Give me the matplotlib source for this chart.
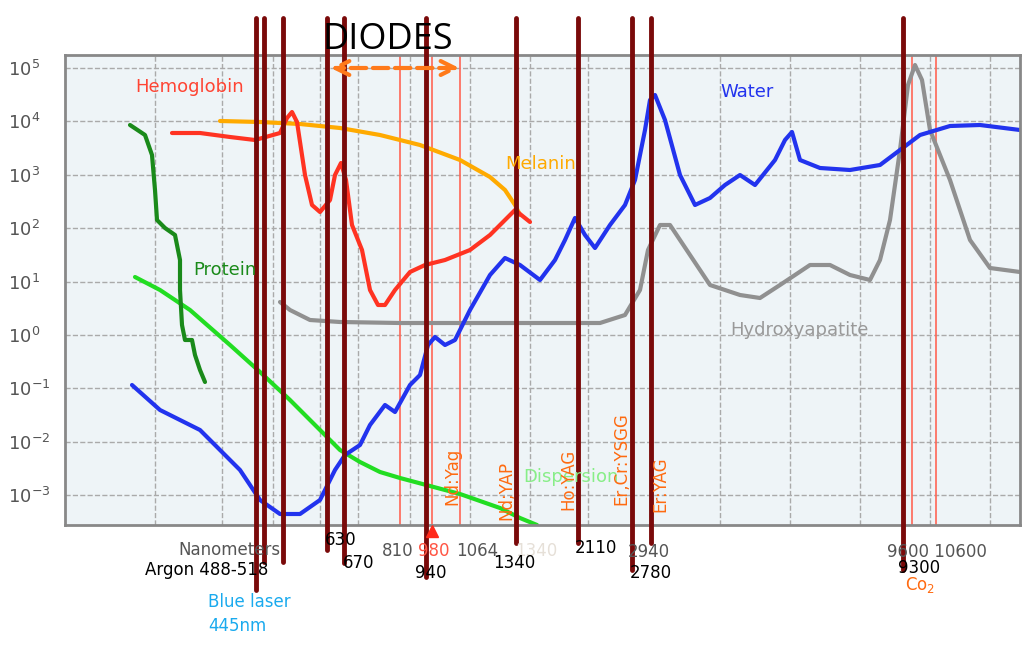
import numpy as np
import matplotlib.pyplot as plt

plt.rcParams['lines.solid_joinstyle'] = 'round'
plt.rcParams['lines.solid_capstyle'] = 'round'

# readings: x = horizontal position, y = vertical position
def lg(ys):
    # vertical position -> absorption (10^5 at 68, 53.4 px per decade)
    return 10 ** (5 - (np.array(ys) - 68) / 53.4)

water_x = [132,160,200,240,260,280,300,320,335,345,360,370,385,395,410,420,428,435,445,455,470,490,505,520,540,555,565,575,585,595,610,625,635,645,650,655,665,680,695,710,725,740,755,775,785,792,800,820,850,880,900,920,950,980,1020]
water_y = [385,410,430,470,500,514,514,500,470,455,445,425,405,412,385,375,345,337,345,340,310,275,258,265,280,260,240,218,235,248,225,205,180,130,100,95,120,175,205,198,185,175,185,160,140,132,160,168,170,165,150,135,126,125,130]
hemo_x = [172,200,230,255,280,287,292,297,305,312,320,330,335,341,346,352,362,370,378,385,395,410,425,445,470,490,505,515,530]
hemo_y = [133,133,137,140,133,118,112,122,175,205,212,200,175,163,180,225,250,290,305,305,290,272,265,260,250,235,220,210,222]
melanin_x = [220,260,300,340,380,420,460,490,505,515,520]
melanin_y = [121,122,124,128,135,145,160,177,190,205,215]
protein_x = [130,145,152,155,157,165,175,180,180,182,185,192,195,200,205]
protein_y = [125,135,155,190,220,228,235,260,290,325,340,340,355,370,382]
disp_x = [135,160,190,230,260,290,320,340,360,380,400,430,460,500,520,537]
disp_y = [277,290,310,345,372,400,430,450,462,472,478,486,494,508,518,525]
hydro_x = [280,290,310,340,400,500,600,625,640,648,660,670,690,710,740,760,780,810,830,850,870,880,890,900,908,915,922,930,950,970,990,1020]
hydro_y = [302,310,320,322,323,323,323,315,290,250,225,225,255,285,295,298,285,265,265,275,280,260,220,150,85,65,80,130,180,240,268,272]

grid_x = [155,222,273,320,358,410,470,530,588,650,720,790,860,930,990]
thin_red = [400,432,460,912,936]
# laser lines: position, bottom end
laser_x = [256,264,283,327,344,426,516,578,632,651,903]
laser_end = [590,562,562,550,563,577,543,543,570,543,570]

W, H = 1024, 651
fig = plt.figure(figsize=(W / 100, H / 100), dpi=100)
ax = fig.add_axes([65 / W, (H - 525) / H, 955 / W, 470 / H])
ax.set_facecolor('#eef4f7')
ax.set_xlim(65, 1020)
ax.set_ylim(10 ** (5 - (525 - 68) / 53.4), 10 ** (5 - (55 - 68) / 53.4))
ax.set_yscale('log')
ax.set_xticks([])
ax.set_yticks([10.0 ** k for k in range(-3, 6)])
ax.set_yticks([], minor=True)
ax.set_yticklabels([r'$10^{%d}$' % k for k in range(-3, 6)], color='#555555', fontsize=13)
ax.tick_params(axis='y', length=0, pad=41)
for t in ax.get_yticklabels():
    t.set_horizontalalignment('left')
ax.grid(axis='y', ls='--', color='#aaaaaa', lw=1)
for gx in grid_x:
    ax.axvline(gx, ls='--', color='#aaaaaa', lw=1, zorder=0)
for s in ax.spines.values():
    s.set_color('#888888')
    s.set_linewidth(2)
for rx in thin_red:
    ax.axvline(rx, color='#ff6655', lw=1.2)

ax.plot(hydro_x, lg(hydro_y), color='#909090', lw=3)
ax.plot(disp_x, lg(disp_y), color='#22dd22', lw=3)
ax.plot(protein_x, lg(protein_y), color='#1a8a1a', lw=3)
ax.plot(melanin_x, lg(melanin_y), color='#ffaa00', lw=3)
ax.plot(hemo_x, lg(hemo_y), color='#ff3322', lw=3)
ax.plot(water_x, lg(water_y), color='#2233ee', lw=3)

# overlay in picture coordinates
ov = fig.add_axes([0, 0, 1, 1])
ov.set_xlim(0, W)
ov.set_ylim(H, 0)
ov.axis('off')
ov.patch.set_alpha(0)

for x, e in zip(laser_x, laser_end):
    ov.plot([x, x], [18, e], color='#7a0a0a', lw=3.5)

ov.text(323, 40, 'DIODES', fontsize=26, va='center', ha='left', family='Open Sans')
ov.annotate('', xy=(328, 68), xytext=(462, 68),
            arrowprops=dict(arrowstyle='<->', color='#ff7a1a', lw=3, ls='--', mutation_scale=25))
ov.plot([432], [531], marker='^', color='#ff2a1a', ms=9)

ov.text(135, 87, 'Hemoglobin', color='#ff4433', fontsize=13, va='center')
ov.text(505, 164, 'Melanin', color='#ffaa00', fontsize=13, va='center')
ov.text(720, 92, 'Water', color='#2233ee', fontsize=13, va='center')
ov.text(193, 270, 'Protein', color='#1a8a1a', fontsize=13, va='center')
ov.text(730, 330, 'Hydroxyapatite', color='#999999', fontsize=13, va='center')
ov.text(523, 477, 'Dispersion', color='#88ee88', fontsize=13, va='center')

orange = '#ff6a10'
for x, yb, s in [(452, 505, 'Nd:Yag'), (506, 520, 'Nd;YAP'), (568, 510, 'Ho:YAG'),
                 (621, 505, 'Er,Cr:YSGG'), (660, 512, 'Er:YAG')]:
    ov.text(x, yb, s, rotation=90, color=orange, fontsize=12, ha='center', va='bottom')

gray = '#555555'
for x, y, s, c in [(178, 550, 'Nanometers', gray), (145, 570, 'Argon 488-518', 'black'),
                   (325, 540, '630', 'black'), (343, 563, '670', 'black'),
                   (382, 551, '810', gray), (418, 551, '980', '#ff5544'),
                   (456, 551, '1064', gray), (515, 551, '1340', '#e6e0d8'),
                   (415, 573, '940', 'black'), (493, 563, '1340', 'black'),
                   (575, 548, '2110', 'black'), (628, 552, '2940', gray),
                   (630, 573, '2780', 'black'), (887, 552, '9600 10600', gray),
                   (898, 568, '9300', 'black')]:
    ov.text(x, y, s, color=c, fontsize=12, va='center', ha='left')
ov.text(905, 585, r'Co$_2$', color=orange, fontsize=12, va='center')
ov.text(208, 602, 'Blue laser', color='#1aaaee', fontsize=12, va='center')
ov.text(208, 626, '445nm', color='#1aaaee', fontsize=12, va='center')

fig.savefig('out.png', dpi=100)
